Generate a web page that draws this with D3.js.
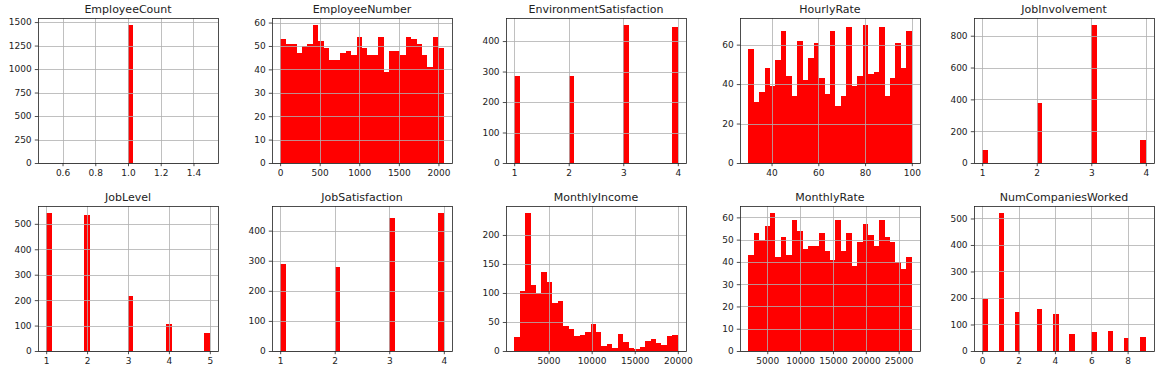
<!DOCTYPE html>
<html>
<head>
<meta charset="utf-8">
<script src="https://cdn.jsdelivr.net/npm/d3@7"></script>
<style>
body { margin: 0; background: #fff; }
text { font-family: "DejaVu Sans", sans-serif; fill: #222; }
</style>
</head>
<body>
<div id="chart"></div>
<script>
const width = 1174;
const height = 376;
const nBins = 30;

// ---- data ----
// continuous columns: counts per bin (30 bins between data min and max)
const employeeNumberCounts = [53, 51, 51, 47, 50, 51, 59, 52, 49, 44, 44, 47, 48, 46, 54, 49, 46, 46, 54, 39, 48, 48, 46, 54, 53, 51, 46, 41, 54, 49];
const hourlyRateCounts = [58, 31, 36, 48, 39, 52, 67, 44, 34, 62, 42, 53, 61, 43, 35, 67, 29, 34, 69, 39, 44, 70, 45, 46, 69, 34, 43, 61, 48, 67];
const monthlyIncomeCounts = [24, 104, 238, 114, 100, 137, 119, 83, 86, 43, 38, 26, 28, 33, 47, 33, 9, 12, 5, 29, 16, 5, 3, 7, 17, 21, 14, 10, 26, 28];
const monthlyRateCounts = [43, 53, 50, 56, 62, 42, 51, 43, 59, 54, 46, 47, 47, 53, 45, 41, 59, 45, 53, 38, 49, 57, 52, 47, 59, 51, 49, 40, 37, 42];

// discrete columns: distinct values and how often they occur
const employeeCountValues = [1];
const employeeCountCounts = [1470];
const envSatValues = [1, 2, 3, 4];
const envSatCounts = [284, 287, 453, 446];
const jobInvValues = [1, 2, 3, 4];
const jobInvCounts = [83, 375, 868, 144];
const jobLevelValues = [1, 2, 3, 4, 5];
const jobLevelCounts = [543, 534, 218, 106, 69];
const jobSatValues = [1, 2, 3, 4];
const jobSatCounts = [289, 280, 442, 459];
const numCompValues = [0, 1, 2, 3, 4, 5, 6, 7, 8, 9];
const numCompCounts = [197, 521, 146, 159, 139, 63, 70, 74, 49, 52];

// tick labels
const xTicks = [
    [0.6, 0.8, 1.0, 1.2, 1.4],
    [0, 500, 1000, 1500, 2000],
    [1, 2, 3, 4],
    [40, 60, 80, 100],
    [1, 2, 3, 4],
    [1, 2, 3, 4, 5],
    [1, 2, 3, 4],
    [5000, 10000, 15000, 20000],
    [5000, 10000, 15000, 20000, 25000],
    [0, 2, 4, 6, 8]
];
const yTicks = [
    [0, 250, 500, 750, 1000, 1250, 1500],
    [0, 10, 20, 30, 40, 50, 60],
    [0, 100, 200, 300, 400],
    [0, 20, 40, 60],
    [0, 200, 400, 600, 800],
    [0, 100, 200, 300, 400, 500],
    [0, 100, 200, 300, 400],
    [0, 50, 100, 150, 200],
    [0, 10, 20, 30, 40, 50, 60],
    [0, 100, 200, 300, 400, 500]
];

// bin the discrete values the same way numpy would
function binDiscrete(values, counts) {
    let lo = d3.min(values), hi = d3.max(values);
    if (lo === hi) { lo -= 0.5; hi += 0.5; }
    const w = (hi - lo) / nBins;
    const out = new Array(nBins).fill(0);
    values.forEach((v, i) => {
        const k = Math.min(nBins - 1, Math.floor((v - lo) / w + 1e-9));
        out[k] += counts[i];
    });
    return { min: lo, max: hi, counts: out };
}

const panels = [
    { title: "EmployeeCount", ...binDiscrete(employeeCountValues, employeeCountCounts), fmt: d3.format(".1f") },
    { title: "EmployeeNumber", min: 1, max: 2068, counts: employeeNumberCounts },
    { title: "EnvironmentSatisfaction", ...binDiscrete(envSatValues, envSatCounts) },
    { title: "HourlyRate", min: 30, max: 100, counts: hourlyRateCounts },
    { title: "JobInvolvement", ...binDiscrete(jobInvValues, jobInvCounts) },
    { title: "JobLevel", ...binDiscrete(jobLevelValues, jobLevelCounts) },
    { title: "JobSatisfaction", ...binDiscrete(jobSatValues, jobSatCounts) },
    { title: "MonthlyIncome", min: 1009, max: 19999, counts: monthlyIncomeCounts },
    { title: "MonthlyRate", min: 2094, max: 26999, counts: monthlyRateCounts },
    { title: "NumCompaniesWorked", ...binDiscrete(numCompValues, numCompCounts) }
];

const svg = d3.select("#chart").append("svg")
    .attr("width", width)
    .attr("height", height);

const plotW = 180, plotH = 145;

panels.forEach((p, i) => {
    const col = i % 5, row = Math.floor(i / 5);
    const left = 38 + col * 234;
    const top = row === 0 ? 18 : 206;
    const span = p.max - p.min;
    const binW = span / nBins;

    const bins = p.counts.map((c, k) => ({ x0: p.min + k * binW, x1: p.min + (k + 1) * binW, c: c }));

    const xScale = d3.scaleLinear()
        .domain([p.min - 0.05 * span, p.max + 0.05 * span])
        .range([0, plotW]);
    const yScale = d3.scaleLinear()
        .domain([0, d3.max(p.counts) * 1.05])
        .range([plotH, 0]);

    const g = svg.append("g").attr("transform", `translate(${left},${top})`);

    g.selectAll("rect.bar")
        .data(bins.filter(b => b.c > 0))
        .join("rect")
        .attr("class", "bar")
        .attr("x", d => xScale(d.x0))
        .attr("y", d => yScale(d.c))
        .attr("width", d => xScale(d.x1) - xScale(d.x0))
        .attr("height", d => plotH - yScale(d.c))
        .attr("fill", "#ff0000")
        .attr("shape-rendering", "crispEdges");

    // grid on top of bars (matplotlib default)
    g.selectAll("line.gx")
        .data(xTicks[i])
        .join("line")
        .attr("class", "gx")
        .attr("x1", d => Math.round(xScale(d)) + 0.5)
        .attr("x2", d => Math.round(xScale(d)) + 0.5)
        .attr("y1", 0)
        .attr("y2", plotH)
        .attr("stroke", "#b0b0b0")
        .attr("stroke-width", 0.8);
    g.selectAll("line.gy")
        .data(yTicks[i])
        .join("line")
        .attr("class", "gy")
        .attr("y1", d => Math.round(yScale(d)) + 0.5)
        .attr("y2", d => Math.round(yScale(d)) + 0.5)
        .attr("x1", 0)
        .attr("x2", plotW)
        .attr("stroke", "#b0b0b0")
        .attr("stroke-width", 0.8);

    const xAxis = d3.axisBottom(xScale).tickValues(xTicks[i]).tickSize(3.2).tickSizeOuter(0).tickPadding(3.2)
        .tickFormat(p.fmt || d3.format("d"));
    const yAxis = d3.axisLeft(yScale).tickValues(yTicks[i]).tickSize(3.2).tickSizeOuter(0).tickPadding(3.2)
        .tickFormat(d3.format("d"));

    const gx = g.append("g").attr("transform", `translate(0,${plotH})`).call(xAxis);
    const gy = g.append("g").call(yAxis);
    [gx, gy].forEach(a => {
        a.select(".domain").remove();
        a.selectAll("line").attr("stroke", "#222").attr("stroke-width", 0.8);
        a.selectAll("text").style("font-size", "9px").attr("fill", "#222");
    });

    // spines
    g.append("rect")
        .attr("x", 0.5).attr("y", 0.5)
        .attr("width", plotW).attr("height", plotH)
        .attr("fill", "none")
        .attr("stroke", "#222")
        .attr("stroke-width", 0.8);

    g.append("text")
        .attr("x", plotW / 2)
        .attr("y", -5.5)
        .attr("text-anchor", "middle")
        .style("font-size", "11px")
        .text(p.title);
});
</script>
</body>
</html>
